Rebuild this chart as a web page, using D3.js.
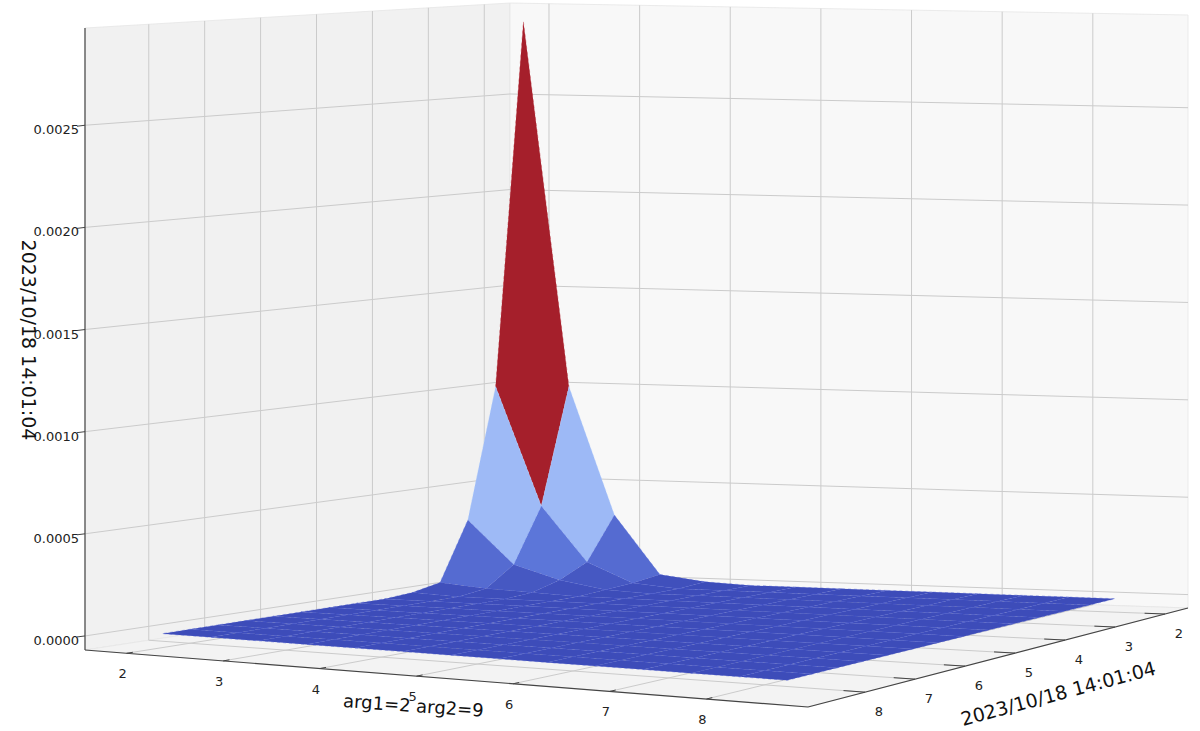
<!DOCTYPE html>
<html><head><meta charset="utf-8">
<script src="https://cdn.jsdelivr.net/npm/d3@7"></script>
<style>body{margin:0;background:#fff}text{font-family:"DejaVu Sans",sans-serif}</style>
</head><body><svg id="c" width="1200" height="731"></svg>
<script>
// grid values (arg1 along x, second arg along y)
var xVals = [2, 2.5, 3, 3.5, 4, 4.5, 5, 5.5, 6, 6.5, 7, 7.5, 8, 8.5];
var yVals = [2, 2.5, 3, 3.5, 4, 4.5, 5, 5.5, 6, 6.5, 7, 7.5, 8, 8.5];
// z rows near the corner, one per y value, columns follow xVals (rest is flat ~0)
var zPeakRows = [
	[0.00289, 0.00100, 0.00034, 0.00004, 0.00001],
	[0.00101, 0.00040, 0.00012, 0.00002, 0],
	[0.00034, 0.00012, 0.00005, 0.00001, 0],
	[0.00004, 0.00002, 0.00001, 0, 0],
	[0.00001, 0, 0, 0, 0]
];
var xTicks = [2, 3, 4, 5, 6, 7, 8];
var yTicks = [2, 3, 4, 5, 6, 7, 8];
var zTicks = [0, 0.0005, 0.0010, 0.0015, 0.0020, 0.0025];
var xLabel = 'arg1=2 arg2=9', yLabel = '2023/10/18 14:01:04', zLabel = '2023/10/18 14:01:04';

var zData = yVals.map(function (y, j) {
	return xVals.map(function (x, i) { return (zPeakRows[j] && zPeakRows[j][i] !== undefined) ? zPeakRows[j][i] : 0; });
});

var svg = d3.select('#c');
var xs = d3.scaleLinear().domain([1.57, 9.05]).range([0, 1]),
	ys = d3.scaleLinear().domain([1.54, 9.14]).range([0, 1]),
	zs = d3.scaleLinear().domain([-0.0000688, 0.002976]).range([0, 1]);

// floor corners and box heights: D(u0,v0) C(u1,v0) B(u1,v1) A(u0,v1)
var fD = [510, 585], fC = [1188, 608], fB = [808, 707], fA = [85, 650];
var hD = 582, hC = 593, hB = 640, hA = 622;

function bil(u, v, pD, pC, pB, pA) {
	return (1 - u) * (1 - v) * pD + u * (1 - v) * pC + u * v * pB + (1 - u) * v * pA;
}
function projUV(u, v, zf) {
	var X = bil(u, v, fD[0], fC[0], fB[0], fA[0]),
		Y = bil(u, v, fD[1], fC[1], fB[1], fA[1]),
		H = bil(u, v, hD, hC, hB, hA);
	return [X, Y - zf * H, u + v];
}
function proj(x, y, z) { return projUV(xs(x), ys(y), zs(z)); }
function pts(arr) { return arr.map(function (p) { return p[0] + ',' + p[1]; }).join(' '); }

// panes
var panes = [
	{p: [[0, 0, 0], [0, 1, 0], [0, 1, 1], [0, 0, 1]], fill: '#f1f1f1'},
	{p: [[0, 0, 0], [1, 0, 0], [1, 0, 1], [0, 0, 1]], fill: '#f8f8f8'},
	{p: [[0, 0, 0], [1, 0, 0], [1, 1, 0], [0, 1, 0]], fill: '#f3f3f3'}
];
svg.selectAll('polygon.pane').data(panes).enter().append('polygon').attr('class', 'pane')
	.attr('points', function (d) { return pts(d.p.map(function (k) { return projUV(k[0], k[1], k[2]); })); })
	.style('fill', function (d) { return d.fill; }).style('stroke', '#e6e6e6').style('stroke-width', 0.8);

function seg(p1, p2, cls, color, width) {
	svg.append('line').attr('class', cls).attr('x1', p1[0]).attr('y1', p1[1]).attr('x2', p2[0]).attr('y2', p2[1])
		.style('stroke', color).style('stroke-width', width);
}
var gridColor = '#cbcbcb';
// left wall (x = min)
yTicks.forEach(function (t) { seg(projUV(0, ys(t), 0), projUV(0, ys(t), 1), 'grid', gridColor, 1); });
zTicks.forEach(function (t) { seg(projUV(0, 0, zs(t)), projUV(0, 1, zs(t)), 'grid', gridColor, 1); });
// right wall (y = min)
xTicks.forEach(function (t) { seg(projUV(xs(t), 0, 0), projUV(xs(t), 0, 1), 'grid', gridColor, 1); });
zTicks.forEach(function (t) { seg(projUV(0, 0, zs(t)), projUV(1, 0, zs(t)), 'grid', gridColor, 1); });
// floor
xTicks.forEach(function (t) { seg(projUV(xs(t), 0, 0), projUV(xs(t), 1, 0), 'grid', gridColor, 1); });
yTicks.forEach(function (t) { seg(projUV(0, ys(t), 0), projUV(1, ys(t), 0), 'grid', gridColor, 1); });

// surface faces
var faces = [];
for (var j = 0; j < yVals.length - 1; j++) {
	for (var i = 0; i < xVals.length - 1; i++) {
		var corners = [[i, j], [i + 1, j], [i + 1, j + 1], [i, j + 1]];
		var p = corners.map(function (k) { return proj(xVals[k[0]], yVals[k[1]], zData[k[1]][k[0]]); });
		faces.push({p: p, avg: d3.mean(corners, function (k) { return zData[k[1]][k[0]]; }),
			depth: d3.mean(p, function (v) { return v[2]; })});
	}
}
var coolwarm = d3.scaleLinear()
	.domain([0, 0.125, 0.25, 0.375, 0.5, 0.625, 0.75, 0.875, 1])
	.range(['#3d4cb9', '#5b74d8', '#7d9cf0', '#a5c0f7', '#dddcdc', '#f6bfa6', '#f08b6e', '#cc4a40', '#a51f2b']);
var cnorm = d3.scaleLinear().domain(d3.extent(faces, function (d) { return d.avg; })).range([0, 1]);
faces.sort(function (p1, p2) { return p1.depth - p2.depth; });
svg.selectAll('polygon.face').data(faces).enter().append('polygon').attr('class', 'face')
	.attr('points', function (d) { return pts(d.p); })
	.style('fill', function (d) { return coolwarm(cnorm(d.avg)); })
	.style('stroke', function (d) { return d3.color(coolwarm(cnorm(d.avg))).brighter(0.35); })
	.style('stroke-width', 0.4).style('stroke-dasharray', '3,3');

// axes
var axisColor = '#444';
seg(projUV(0, 1, 0), projUV(1, 1, 0), 'axis', axisColor, 1.2);
seg(projUV(1, 1, 0), projUV(1, 0, 0), 'axis', axisColor, 1.2);
seg(projUV(0, 1, 0), projUV(0, 1, 1), 'axis', axisColor, 1.2);

xTicks.forEach(function (t) {
	var p = projUV(xs(t), 1, 0);
	seg(projUV(xs(t), 0.985, 0), p, 'tick', axisColor, 1);
	svg.append('text').attr('x', p[0] - 4).attr('y', p[1] + 25).attr('text-anchor', 'middle')
		.style('font-size', '13px').style('fill', '#222').text(t);
});
yTicks.forEach(function (t) {
	var p = projUV(1, ys(t), 0);
	seg(projUV(0.97, ys(t), 0), p, 'tick', axisColor, 1);
	svg.append('text').attr('x', p[0] + 14).attr('y', p[1] + 24).attr('text-anchor', 'middle')
		.style('font-size', '13px').style('fill', '#222').text(t);
});
zTicks.forEach(function (t) {
	var p = projUV(0, 1, zs(t));
	seg(p, [p[0] - 8, p[1] + 1], 'tick', axisColor, 1);
	svg.append('text').attr('x', p[0] - 6).attr('y', p[1] + 9).attr('text-anchor', 'end')
		.style('font-size', '13px').style('fill', '#222').text(d3.format('.4f')(t));
});

svg.append('text').attr('transform', 'translate(413,712) rotate(4)').attr('text-anchor', 'middle')
	.style('font-size', '18px').style('fill', '#111').text(xLabel);
svg.append('text').attr('transform', 'translate(1060,700) rotate(-15)').attr('text-anchor', 'middle')
	.style('font-size', '19px').style('fill', '#111').text(yLabel);
svg.append('text').attr('transform', 'translate(22,340) rotate(90)').attr('text-anchor', 'middle')
	.style('font-size', '19px').style('fill', '#111').text(zLabel);
</script></body></html>
